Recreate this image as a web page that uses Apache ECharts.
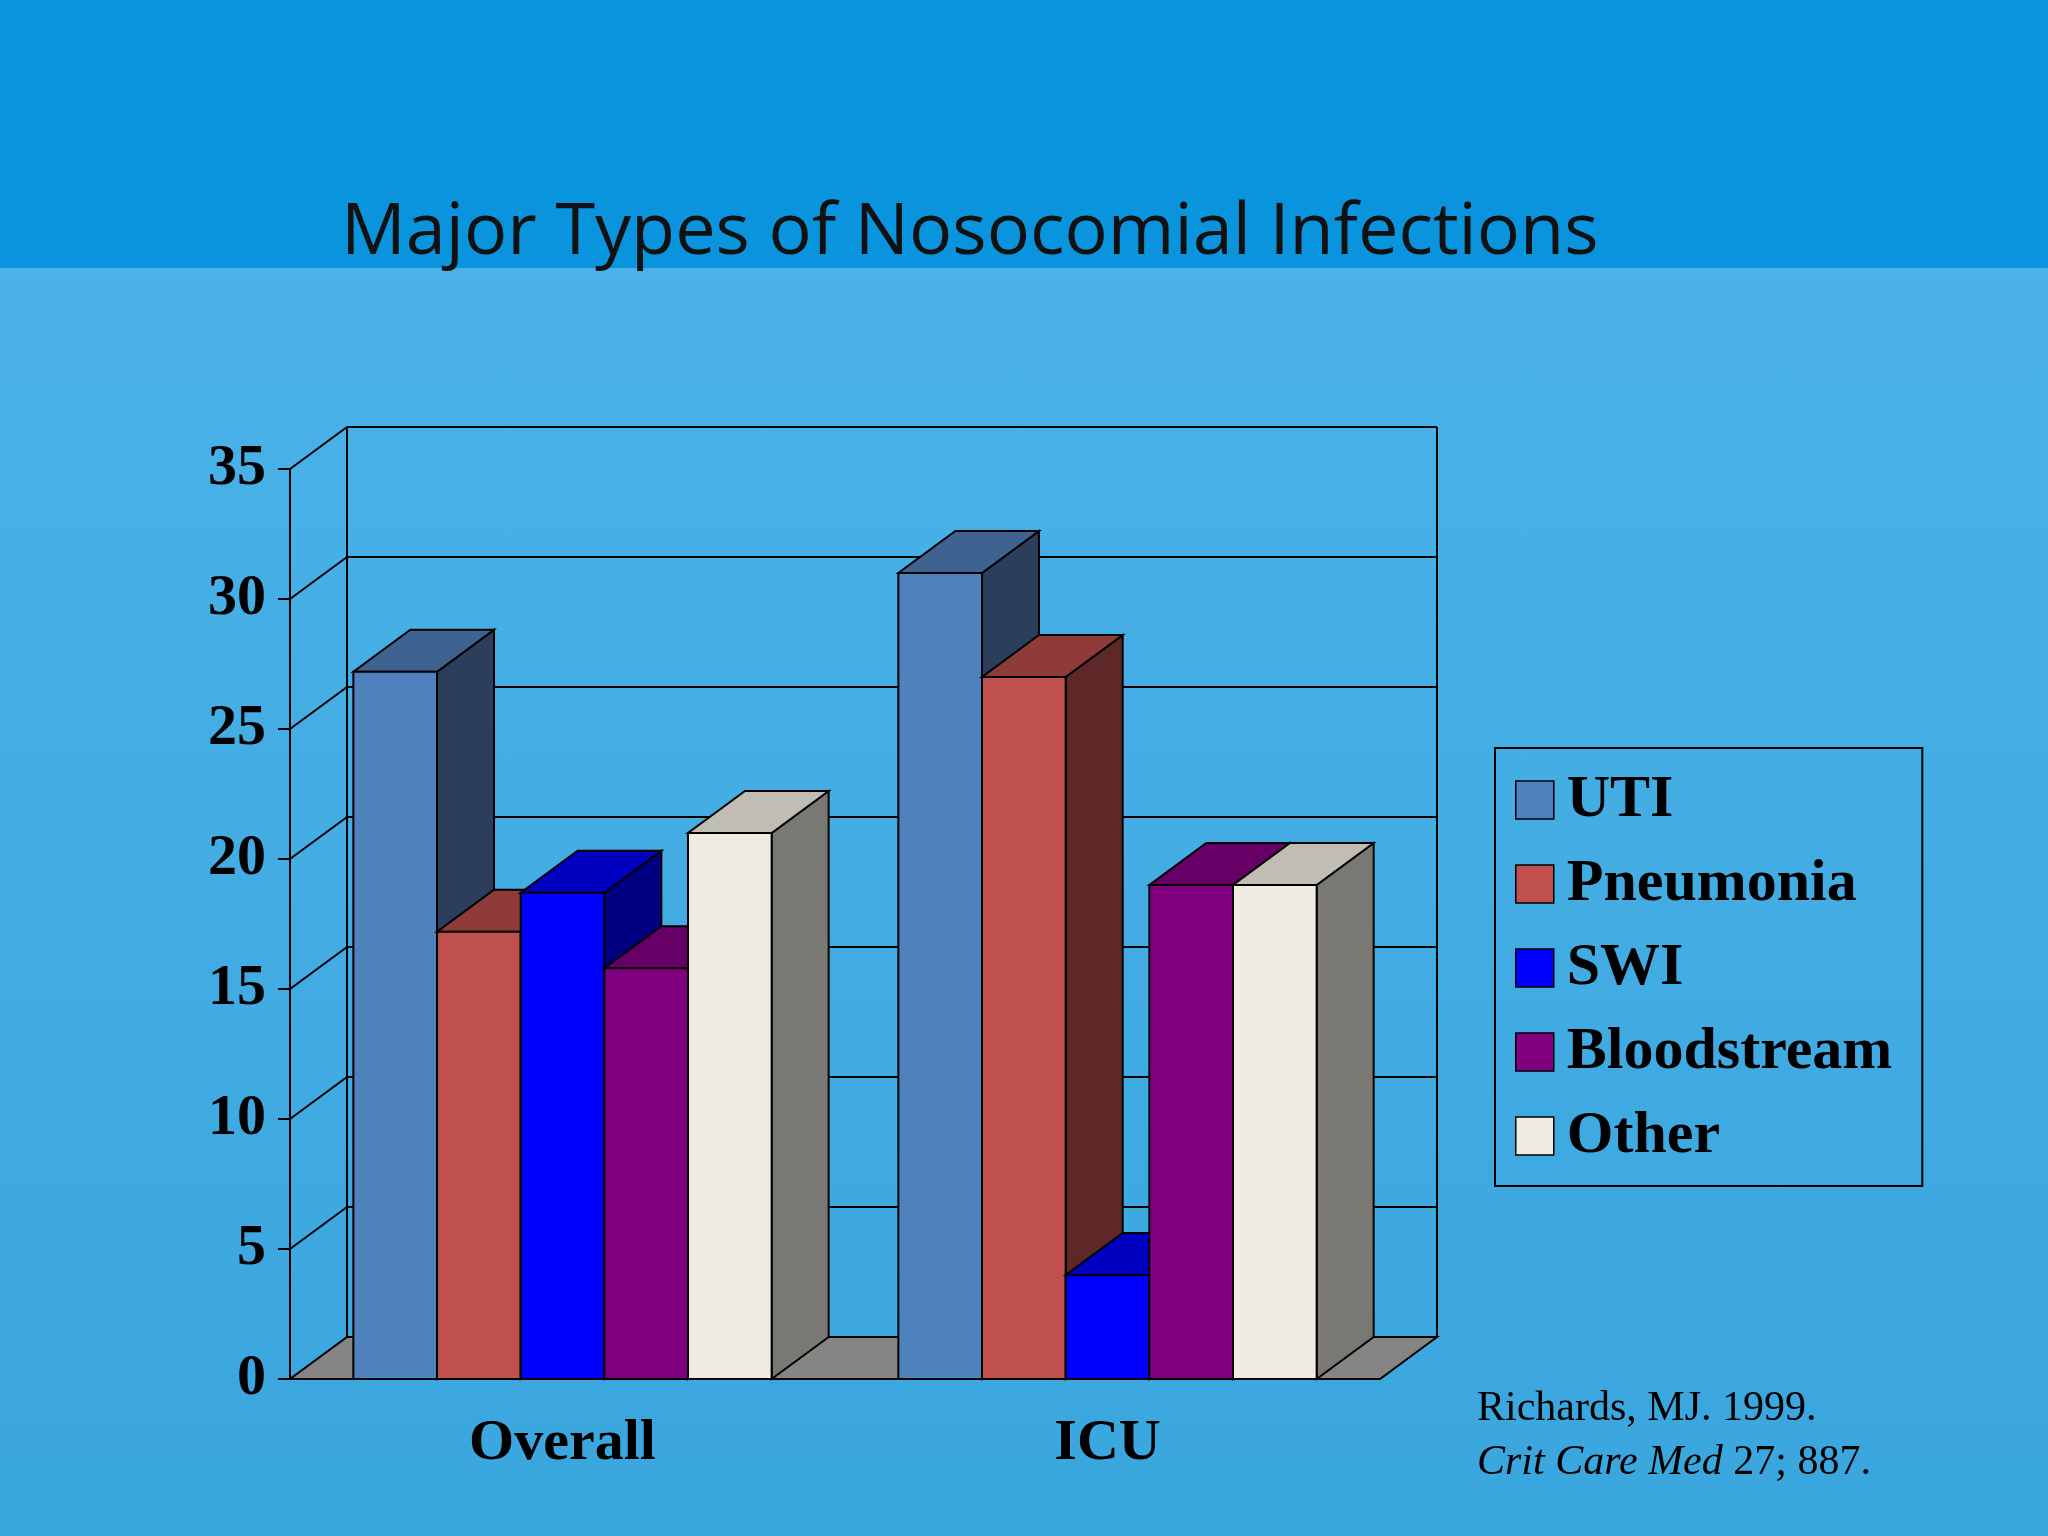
<!DOCTYPE html>
<html>
<head>
<meta charset="utf-8">
<script src="https://cdn.jsdelivr.net/npm/echarts@6/dist/echarts.min.js"></script>
<style>
  html, body { margin: 0; padding: 0; }
  body {
    width: 2048px; height: 1536px; overflow: hidden;
    background: linear-gradient(180deg, #0a94de 0px, #0a94de 268px, #4ab2e8 268px, #3aa6de 1536px);
  }
  #chart { width: 2048px; height: 1536px; }
</style>
</head>
<body>
<div id="chart"></div>
<script>
var categories = ['Overall', 'ICU'];
var seriesNames = ['UTI', 'Pneumonia', 'SWI', 'Bloodstream', 'Other'];
var uti = [27.2, 31];
var pneumonia = [17.2, 27];
var swi = [18.7, 4];
var bloodstream = [15.8, 19];
var other = [21, 19];
var yTicks = [0, 5, 10, 15, 20, 25, 30, 35];

var values = [uti, pneumonia, swi, bloodstream, other];
var faces = [
  ['#4f81bd', '#3e6391', '#2b3f5c'],
  ['#c0504d', '#8f3b39', '#5e2828'],
  ['#0000ff', '#0000c0', '#000080'],
  ['#800080', '#660066', '#400040'],
  ['#f0ebe1', '#c0bdb4', '#7a7873']
];
var DX = 57, DY = -42;
var line = { stroke: '#000', lineWidth: 2 };

function wallRender(params, api) {
  var cs = params.coordSys;
  var x0 = cs.x, x1 = cs.x + cs.width;
  var y0 = api.coord([0, 0])[1];
  var yTop = api.coord([0, 35])[1];
  var kids = [];
  kids.push({ type: 'polygon', shape: { points: [[x0, y0], [x1, y0], [x1 + DX, y0 + DY], [x0 + DX, y0 + DY]] },
    style: { fill: '#858585', stroke: '#000', lineWidth: 2 } });
  kids.push({ type: 'line', shape: { x1: x0 + DX, y1: y0 + DY, x2: x0 + DX, y2: yTop + DY }, style: line });
  kids.push({ type: 'line', shape: { x1: x1 + DX, y1: y0 + DY, x2: x1 + DX, y2: yTop + DY }, style: line });
  yTicks.forEach(function (v) {
    if (v === 0) return;
    var y = api.coord([0, v])[1];
    kids.push({ type: 'line', shape: { x1: x0 + DX, y1: y + DY, x2: x1 + DX, y2: y + DY }, style: line });
    kids.push({ type: 'line', shape: { x1: x0, y1: y, x2: x0 + DX, y2: y + DY }, style: line });
  });
  return { type: 'group', children: kids };
}

function barRender(k) {
  return function (params, api) {
    var c = api.coord([api.value(0), api.value(1)]);
    var base = api.coord([api.value(0), 0]);
    var band = api.size([1, 0])[0];
    var bw = band * 0.1535;
    var left = c[0] - 2.5 * bw + k * bw;
    var right = left + bw;
    var top = c[1], bot = base[1];
    var col = faces[k];
    var st = function (f) { return { fill: f, stroke: '#000', lineWidth: 2 }; };
    return { type: 'group', children: [
      { type: 'polygon', shape: { points: [[right, bot], [right + DX, bot + DY], [right + DX, top + DY], [right, top]] }, style: st(col[2]) },
      { type: 'polygon', shape: { points: [[left, top], [right, top], [right + DX, top + DY], [left + DX, top + DY]] }, style: st(col[1]) },
      { type: 'rect', shape: { x: left, y: top, width: bw, height: bot - top }, style: st(col[0]) }
    ] };
  };
}

var series = [{
  type: 'custom', name: 'wall', renderItem: wallRender, data: [[0, 0]], silent: true, z: 1
}];
seriesNames.forEach(function (n, k) {
  series.push({
    type: 'custom', name: n, z: 2 + k,
    itemStyle: { color: faces[k][0], borderColor: '#000', borderWidth: 1.5 },
    renderItem: barRender(k),
    encode: { x: 0, y: 1 },
    data: values[k].map(function (v, i) { return [i, v]; })
  });
});

var chart = echarts.init(document.getElementById('chart'));
chart.setOption({
  animation: false,
  title: {
    text: 'Major Types of Nosocomial Infections',
    left: 336, top: 192,
    textStyle: { fontFamily: 'Open Sans', fontWeight: 'normal', fontSize: 72, color: '#111' }
  },
  grid: { left: 290, right: 668, top: 469, bottom: 157 },
  legend: {
    data: seriesNames, orient: 'vertical', left: 1495, top: 748,
    width: 420, padding: [22, 30, 20, 20], itemGap: 24,
    borderColor: '#000', borderWidth: 2,
    icon: 'rect', itemWidth: 38, itemHeight: 38,
    itemStyle: { borderColor: '#000', borderWidth: 1.5 },
    textStyle: { fontFamily: 'Liberation Serif', fontWeight: 'bold', fontSize: 60, color: '#000', padding: [0, 0, 0, 8] }
  },
  xAxis: {
    type: 'category', data: categories,
    axisLine: { lineStyle: { color: '#000', width: 2 } },
    axisTick: { lineStyle: { color: '#000', width: 2 }, length: 12 },
    axisLabel: { margin: 36, fontFamily: 'Liberation Serif', fontWeight: 'bold', fontSize: 58, color: '#000' }
  },
  yAxis: {
    type: 'value', min: 0, max: 35, interval: 5,
    splitLine: { show: false },
    axisLine: { show: true, lineStyle: { color: '#000', width: 2 } },
    axisTick: { show: true, length: 12, lineStyle: { color: '#000', width: 2 } },
    axisLabel: { margin: 24, fontFamily: 'Liberation Serif', fontWeight: 'bold', fontSize: 58, color: '#000' }
  },
  graphic: [{
    type: 'text', left: 1477, top: 1382,
    style: {
      text: 'Richards, MJ. 1999.\n{i|Crit Care Med} 27; 887.',
      font: '42px "Liberation Serif"', fill: '#000', lineHeight: 54,
      rich: { i: { fontStyle: 'italic', fontFamily: 'Liberation Serif', fontSize: 42 } }
    }
  }],
  series: series
});
</script>
</body>
</html>
